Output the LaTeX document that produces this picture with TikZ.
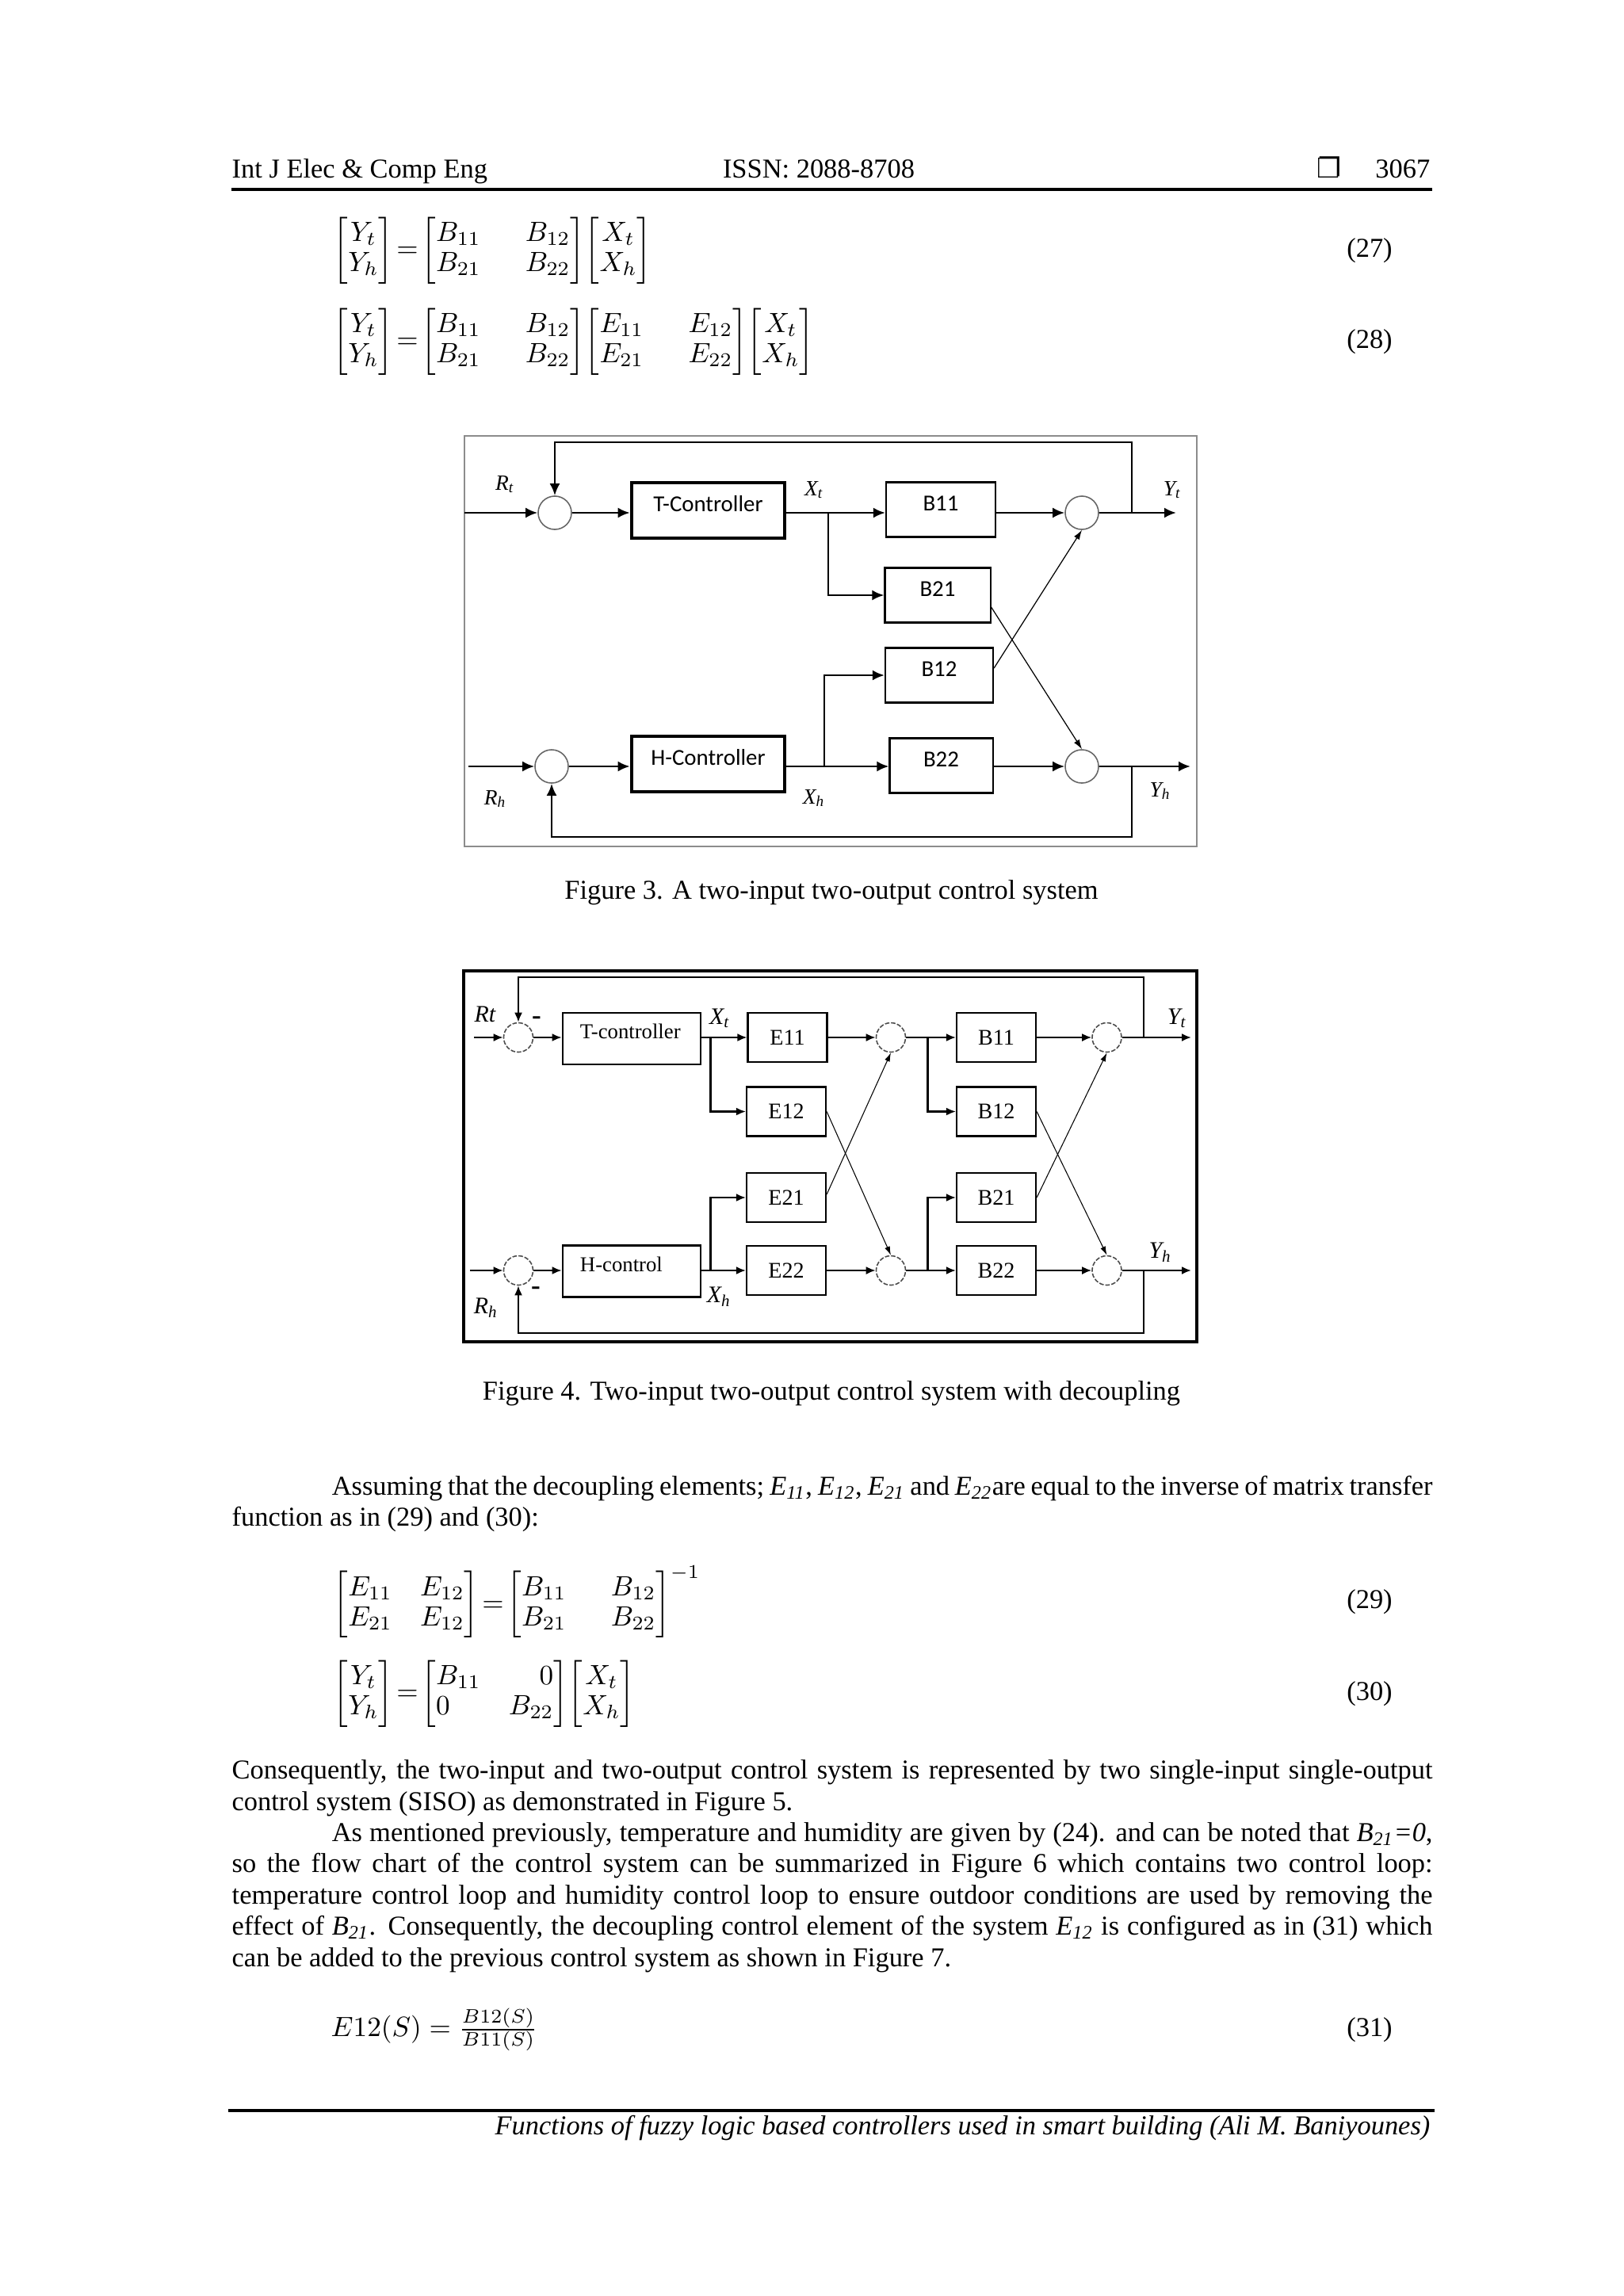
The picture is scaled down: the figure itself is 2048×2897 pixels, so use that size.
\documentclass[tikz,border=0pt]{standalone}
\usepackage{amsmath}
\usepackage{fontspec}
\setmainfont{Liberation Serif}
\newfontfamily\calfont{Carlito}
\newfontfamily\dingfont{DejaVu Sans}
\usetikzlibrary{arrows.meta,calc}
\newcommand{\sbit}[2]{\textit{#1}\textsubscript{\textit{#2}}}
\newcommand{\vct}[2]{\left[\begin{array}{@{}c@{}}#1\\#2\end{array}\right]}
\newcommand{\mtx}[5][16pt]{\left[\begin{array}{@{}l@{\hspace{#1}}r@{}}#2&#3\\#4&#5\end{array}\right]}
\newcommand{\eqs}{\!=\!}

\begin{document}
\begin{tikzpicture}[x=0.01cm,y=-0.01cm,
  body/.style={font=\fontsize{9.79}{11.21}\selectfont, inner sep=0},
  para/.style={body, text width=15.14cm, align=justify, anchor=base west},
  eqn/.style={font=\fontsize{9.6}{10.8}\selectfont, inner sep=0, anchor=west},
  eqno/.style={body, anchor=center},
  blkA/.style={draw, line width=0.6pt, minimum height=0.69cm, inner sep=0,
    font=\calfont\fontsize{8.2}{9}\selectfont, text height=0.19cm, text depth=0.16cm},
  ctlA/.style={blkA, line width=1.3pt, minimum width=1.93cm, minimum height=0.70cm},
  sumA/.style={circle, draw=black!60, line width=0.45pt, minimum size=0.42cm, inner sep=0},
  sigA/.style={line width=0.75pt, -{Latex[length=0.15cm,width=0.13cm]}},
  crsA/.style={line width=0.35pt, -{Latex[length=0.12cm,width=0.08cm]}},
  lblA/.style={font=\itshape\fontsize{7.8}{8}\selectfont, inner sep=0},
  blkB/.style={draw, line width=0.6pt, minimum width=1.0cm, minimum height=0.62cm, inner sep=0,
    font=\fontsize{8}{9}\selectfont},
  ctlB/.style={draw, line width=0.6pt, minimum width=1.745cm, minimum height=0.65cm, inner sep=0,
    font=\fontsize{7.6}{9}\selectfont, text width=1.3cm, align=left, text height=0.18cm, text depth=0.18cm},
  sumB/.style={circle, draw=black!70, line width=0.45pt, dash pattern=on 1.6pt off 0.6pt,
    minimum size=0.37cm, inner sep=0},
  sigB/.style={line width=0.6pt, -{Latex[length=0.12cm,width=0.1cm]}},
  crsB/.style={line width=0.3pt, -{Latex[length=0.11cm,width=0.07cm]}},
  lblB/.style={font=\itshape\fontsize{8.5}{9}\selectfont, inner sep=0},
  minus/.style={font=\bfseries\fontsize{10}{10}\selectfont, inner sep=0}]
\useasboundingbox (0,0) rectangle (2048,2897);

% header
\node[body, anchor=base west] (hdl) at (292,225) {Int J Elec \& Comp Eng};
\node[body, anchor=base] (hdc) at (1033,225) {ISSN: 2088-8708};
\node[body, anchor=base] (hdb) at (1677,225) {\dingfont ❐};
\node[body, anchor=base east] (hdr) at (1805,225) {3067};
\draw[line width=1.1pt] (292,239) -- (1807,239);

% equations (27) and (28)
\node[eqn] (eq27) at (420,316) {$\vct{Y_t}{Y_h}\eqs\mtx{B_{11}}{B_{12}}{B_{21}}{B_{22}}\!\vct{X_t}{X_h}$};
\node[eqno] (n27) at (1728,316) {(27)};
\node[eqn] (eq28) at (420,431) {$\vct{Y_t}{Y_h}\eqs\mtx{B_{11}}{B_{12}}{B_{21}}{B_{22}}\!\mtx{E_{11}}{E_{12}}{E_{21}}{E_{22}}\!\vct{X_t}{X_h}$};
\node[eqno] (n28) at (1728,431) {(28)};

% figure 3
\draw[black!45, line width=0.5pt] (586,550) rectangle (1510,1068);
\node[sumA] (s3a) at (700,647) {};
\node[ctlA] (tc3) at (893.5,644) {T-Controller};
\node[blkA, minimum width=1.38cm] (b11c) at (1187,643) {B11};
\node[blkA, minimum width=1.33cm] (b21c) at (1183,751) {B21};
\node[blkA, minimum width=1.36cm] (b12c) at (1185,852) {B12};
\node[blkA, minimum width=1.30cm] (b22c) at (1187.5,966) {B22};
\node[ctlA] (hc3) at (893.5,964) {H-Controller};
\node[sumA] (s3b) at (1365,647) {};
\node[sumA] (s3c) at (696,967) {};
\node[sumA] (s3d) at (1365,967) {};
\coordinate (in3a) at (586,647);
\coordinate (in3b) at (591,967);
\coordinate (out3a) at (1484,647);
\coordinate (out3b) at (1502,967);
\coordinate (br3a) at (1045,647);
\coordinate (br3b) at (1040,967);
\coordinate (fb3a) at (1428,647);
\coordinate (fb3b) at (1428,967);
\coordinate (tp3) at (700,558);
\coordinate (bt3) at (696,1056);
\draw[sigA] (in3a) -- (s3a);
\draw[sigA] (s3a) -- (tc3.west |- s3a);
\draw[sigA] (tc3.east |- s3a) -- (b11c.west |- s3a);
\draw[sigA] (br3a) |- (b21c.west);
\draw[sigA] (b11c.east |- s3b) -- (s3b);
\draw[sigA] (s3b) -- (out3a);
\draw[sigA] (fb3a) |- (tp3) -- (s3a);
\draw[sigA] (in3b) -- (s3c);
\draw[sigA] (s3c) -- (hc3.west |- s3c);
\draw[sigA] (hc3.east |- s3c) -- (b22c.west |- s3c);
\draw[sigA] (br3b) |- (b12c.west);
\draw[sigA] (b22c.east |- s3d) -- (s3d);
\draw[sigA] (s3d) -- (out3b);
\draw[sigA] (fb3b) |- (bt3) -- (s3c);
\draw[crsA] ($(b21c.east)+(0,15)$) -- (s3d.north);
\draw[crsA] ($(b12c.east)+(0,-9)$) -- (s3b.south);
\node[lblA] (rt3) at (637,611) {R\textsubscript{t}};
\node[lblA] (xt3) at (1027,618) {X\textsubscript{t}};
\node[lblA] (yt3) at (1479,618) {Y\textsubscript{t}};
\node[lblA] (rh3) at (625,1008) {R\textsubscript{h}};
\node[lblA] (xh3) at (1027,1007) {X\textsubscript{h}};
\node[lblA] (yh3) at (1464,998) {Y\textsubscript{h}};
\node[body, anchor=base] (cap3) at (1049,1134) {Figure 3. A two-input two-output control system};

% figure 4
\draw[line width=0.9pt] (585,1225) rectangle (1510,1693);
\node[sumB] (s4a) at (654,1309) {};
\node[ctlB] (tc4) at (797,1310.5) {T-controller};
\node[blkB] (e11) at (993.5,1309) {E11};
\node[blkB] (e12) at (992,1402.5) {E12};
\node[blkB] (e21) at (992,1511) {E21};
\node[blkB] (e22) at (992,1603) {E22};
\node[sumB] (s4b) at (1124,1309) {};
\node[sumB] (s4c) at (1124,1603) {};
\node[blkB] (b11d) at (1257,1309) {B11};
\node[blkB] (b12d) at (1257,1402.5) {B12};
\node[blkB] (b21d) at (1257,1511) {B21};
\node[blkB] (b22d) at (1257,1603) {B22};
\node[sumB] (s4d) at (1396.5,1309) {};
\node[sumB] (s4e) at (1396.5,1603) {};
\node[sumB] (s4f) at (654,1603) {};
\node[ctlB] (hc4) at (797,1604) {H-control};
\coordinate (in4a) at (598,1309);
\coordinate (in4b) at (593,1603);
\coordinate (out4a) at (1503,1309);
\coordinate (out4b) at (1503,1603);
\coordinate (br4a) at (896.5,1309);
\coordinate (br4b) at (896.5,1603);
\coordinate (br4c) at (1170.5,1309);
\coordinate (br4d) at (1170.5,1603);
\coordinate (fb4a) at (1443,1309);
\coordinate (fb4b) at (1443,1603);
\coordinate (tp4) at (654,1233);
\coordinate (bt4) at (654,1682);
\draw[sigB] (in4a) -- (s4a);
\draw[sigB] (s4a) -- (tc4.west |- s4a);
\draw[sigB] (tc4.east |- s4a) -- (e11.west);
\draw[sigB] (br4a) |- (e12.west);
\draw[sigB] (e11) -- (s4b);
\draw[sigB] (s4b) -- (b11d);
\draw[sigB] (br4c) |- (b12d.west);
\draw[sigB] (b11d) -- (s4d);
\draw[sigB] (s4d) -- (out4a);
\draw[sigB] (fb4a) |- (tp4) -- (s4a);
\draw[sigB] (in4b) -- (s4f);
\draw[sigB] (s4f) -- (hc4.west |- s4f);
\draw[sigB] (hc4.east |- s4f) -- (e22.west);
\draw[sigB] (br4b) |- (e21.west);
\draw[sigB] (e22) -- (s4c);
\draw[sigB] (s4c) -- (b22d);
\draw[sigB] (br4d) |- (b21d.west);
\draw[sigB] (b22d) -- (s4e);
\draw[sigB] (s4e) -- (out4b);
\draw[sigB] (fb4b) |- (bt4) -- (s4f);
\draw[crsB] (e12.east) -- (s4c.north);
\draw[crsB] ($(e21.east)+(0,-4)$) -- (s4b.south);
\draw[crsB] (b12d.east) -- (s4e.north);
\draw[crsB] (b21d.east) -- (s4d.south);
\node[lblB] (rt4) at (612,1280) {Rt};
\node[minus] (m4a) at (677,1288) {-};
\node[lblB] (xt4) at (908,1285) {X\textsubscript{t}};
\node[lblB] (yt4) at (1485,1285) {Y\textsubscript{t}};
\node[lblB] (yh4) at (1464,1580) {Y\textsubscript{h}};
\node[lblB] (xh4) at (907,1636) {X\textsubscript{h}};
\node[lblB] (rh4) at (613,1650) {R\textsubscript{h}};
\node[minus] (m4b) at (676,1629) {-};
\node[body, anchor=base] (cap4) at (1049,1766) {Figure 4. Two-input two-output control system with decoupling};

% text and equations (29)-(31)
\node[para] (pa) at (292,1886) {\hspace*{1.26cm}Assuming that the decoupling elements; \sbit{E}{11}, \sbit{E}{12}, \sbit{E}{21} and \sbit{E}{22}are equal to the inverse of matrix transfer\linebreak function as in (29) and (30):};
\node[eqn] (eq29) at (420,2021) {$\mtx[10pt]{E_{11}}{E_{12}}{E_{21}}{E_{12}}\eqs\mtx{B_{11}}{B_{12}}{B_{21}}{B_{22}}^{-1}$};
\node[eqno] (n29) at (1728,2021) {(29)};
\node[eqn] (eq30) at (420,2137) {$\vct{Y_t}{Y_h}\eqs\mtx[10pt]{B_{11}}{0}{0}{B_{22}}\!\vct{X_t}{X_h}$};
\node[eqno] (n30) at (1728,2137) {(30)};
\node[para] (pb) at (292,2244.6) {Consequently, the two-input and two-output control system is represented by two single-input single-output\linebreak control system (SISO) as demonstrated in Figure 5.};
\node[para] (pc) at (292,2323.4) {\hspace*{1.26cm}As mentioned previously, temperature and humidity are given by (24). and can be noted that \sbit{B}{21}\textit{=0},\linebreak so the flow chart of the control system can be summarized in Figure 6 which contains two control loop:\linebreak temperature control loop and humidity control loop to ensure outdoor conditions are used by removing the\linebreak effect of \sbit{B}{21}. Consequently, the decoupling control element of the system \sbit{E}{12} is configured as in (31) which\linebreak can be added to the previous control system as shown in Figure 7.};
\node[eqn] (eq31) at (417,2561) {$E12(S) = \frac{B12(S)}{B11(S)}$};
\node[eqno] (n31) at (1728,2561) {(31)};

% footer
\draw[line width=1.1pt] (288,2663) -- (1810,2663);
\node[body, anchor=base east] (ftr) at (1805,2693) {\itshape Functions of fuzzy logic based controllers used in smart building (Ali M. Baniyounes)};
\end{tikzpicture}
\end{document}
